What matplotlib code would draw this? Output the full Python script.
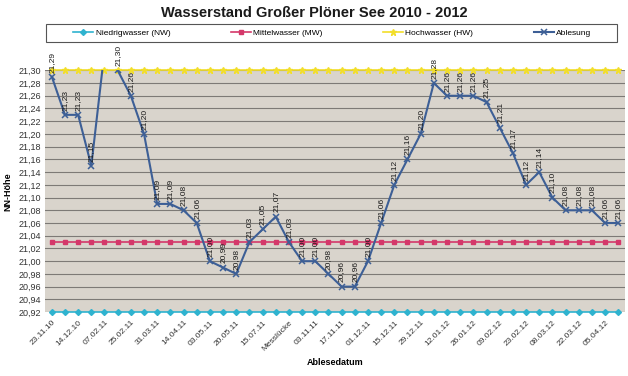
import matplotlib.pyplot as plt
from matplotlib.patches import Rectangle
import numpy as np

plt.rcParams['font.family'] = ['Liberation Sans', 'DejaVu Sans']

dates = ['23.11.10', '14.12.10', '07.02.11', '25.02.11', '31.03.11', '14.04.11',
         '03.05.11', '20.05.11', '15.07.11', 'Messlücke', '03.11.11', '17.11.11',
         '01.12.11', '15.12.11', '29.12.11', '12.01.12', '26.01.12', '09.02.12',
         '23.02.12', '08.03.12', '22.03.12', '05.04.12']

ablesung = [21.29, 21.23, 21.23, 21.15, 21.33, 21.30, 21.26, 21.20, 21.09, 21.09,
            21.08, 21.06, 21.00, 20.99, 20.98, 21.03, 21.05, 21.07, 21.03, 21.00,
            21.00, 20.98, 20.96, 20.96, 21.00, 21.06, 21.12, 21.16, 21.20, 21.28,
            21.26, 21.26, 21.26, 21.25, 21.21, 21.17, 21.12, 21.14, 21.10, 21.08,
            21.08, 21.08, 21.06, 21.06]

nw_level = 20.92
mw_level = 21.03
hw_level = 21.30

n = len(ablesung)
x = np.arange(n)

fig = plt.figure(figsize=(6.28, 3.76), dpi=100)
ax = fig.add_axes([0.072, 0.17, 0.923, 0.643])
ax.set_facecolor('#d9d4cc')

ax.plot(x, [nw_level] * n, color='#2fb3cf', marker='D', ms=3, lw=1.2,
        label='Niedrigwasser (NW)', zorder=3, clip_on=False)
ax.plot(x, [mw_level] * n, color='#d4386a', marker='s', ms=3.5, lw=1.2,
        label='Mittelwasser (MW)', zorder=3)
ax.plot(x, [hw_level] * n, color='#f2de2a', marker='*', ms=5, lw=1.2,
        label='Hochwasser (HW)', zorder=3, clip_on=False)
ax.plot(x, ablesung, color='#3d5f96', marker='x', ms=5, mew=1.1, lw=1.5,
        label='Ablesung', zorder=4)

# Datenbeschriftungen (Werte ueber dem Achsenmaximum werden ausgeblendet)
for i, v in enumerate(ablesung):
    if v > hw_level:
        continue
    ax.annotate(f"{v:.2f}".replace('.', ','), (i, v), xytext=(0, 3),
                textcoords='offset points', rotation=90, ha='center', va='bottom',
                fontsize=6, color='#1a1a1a', annotation_clip=False, zorder=5)

ax.set_xlim(-0.5, n - 0.5)
ax.set_ylim(20.92, 21.30)
yt = np.arange(20.92, 21.3001, 0.02)
ax.set_yticks(yt)
ax.set_yticklabels([f"{t:.2f}".replace('.', ',') for t in yt], fontsize=6.5, color='#333333')
ax.set_xticks(x[::2])
ax.set_xticklabels(dates, rotation=45, ha='right', rotation_mode='anchor', fontsize=6, color='#333333')
ax.tick_params(axis='x', length=2, pad=3)
ax.tick_params(axis='y', length=0, pad=3)
ax.grid(axis='y', color='#7d7a76', lw=0.8)
ax.set_axisbelow(True)
for s in ax.spines.values():
    s.set_visible(False)

ax.set_ylabel('NN-Höhe', fontsize=6.5, fontweight='bold', labelpad=4)
ax.set_xlabel('Ablesedatum', fontsize=6.5, fontweight='bold', labelpad=4)

fig.suptitle('Wasserstand Großer Plöner See 2010 - 2012', x=0.5, y=0.985,
             fontsize=10.5, fontweight='bold', color='#1a1a1a')

# Legende ohne eigenen Rahmen, Kasten separat
fig.patches.append(Rectangle((46 / 628, 1 - 42 / 376), 571 / 628, 18 / 376,
                             transform=fig.transFigure, facecolor='white',
                             edgecolor='#555555', lw=0.8, zorder=0))
fig.legend(loc='center', bbox_to_anchor=(0.529, 1 - 33 / 376), ncol=4, fontsize=6,
           frameon=False, columnspacing=7.25, handlelength=2.4, handletextpad=0.3)

fig.savefig('out.png', dpi=100)
